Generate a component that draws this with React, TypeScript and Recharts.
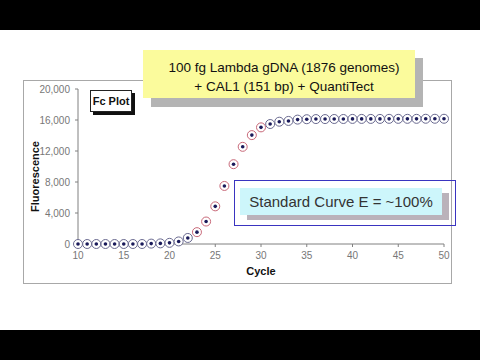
import React from "react";
import { ScatterChart, Scatter, XAxis, YAxis } from "recharts";

const cycles = [10, 11, 12, 13, 14, 15, 16, 17, 18, 19, 20, 21, 22, 23, 24, 25, 26, 27, 28, 29, 30, 31, 32, 33, 34, 35, 36, 37, 38, 39, 40, 41, 42, 43, 44, 45, 46, 47, 48, 49, 50];
const fluorescence = [0, 0, 0, 0, 0, 0, 0, 0, 50, 80, 150, 330, 780, 1530, 2900, 4860, 7490, 10300, 12540, 14050, 15050, 15480, 15780, 15880, 16050, 16100, 16120, 16120, 16130, 16130, 16140, 16140, 16140, 16140, 16150, 16150, 16150, 16150, 16160, 16160, 16160];
const xTicks = [10, 15, 20, 25, 30, 35, 40, 45, 50];
const yTicks = [0, 4000, 8000, 12000, 16000, 20000];
const titleLines = ["100 fg Lambda gDNA (1876 genomes)", "+ CAL1 (151 bp) + QuantiTect"];
const plotLabel = "Fc Plot";
const noteText = "Standard Curve E = ~100%";

const data = cycles.map((c, i) => ({ cycle: c, f: fluorescence[i] }));

const FONT = "'Liberation Sans', Arial, sans-serif";

const Marker = (props: any) => {
  const { cx, cy, payload } = props;
  const rising = payload && payload.f > 1000 && payload.f < 15300;
  return (
    <g>
      <circle cx={cx} cy={cy} r={4.5} fill="#ffffff" stroke={rising ? "#c86878" : "#6a6a90"} strokeWidth={1} />
      <circle cx={cx} cy={cy} r={1.8} fill="#1a1a5a" />
    </g>
  );
};

const YLabel = (props: any) => {
  const vb = props.viewBox || { x: 0, y: 0, width: 0, height: 0 };
  const x = vb.x + 5;
  const y = vb.y + vb.height / 2 + 10;
  return (
    <text x={x} y={y} transform={`rotate(-90 ${x} ${y})`} textAnchor="middle" dominantBaseline="central" fontFamily={FONT} fontSize={11} fontWeight="bold" fill="#111">
      Fluorescence
    </text>
  );
};

export default function App() {
  return (
    <div style={{ position: "absolute", left: 0, top: 0, width: 480, height: 360, background: "#000", overflow: "hidden" }}>
      <div style={{ position: "absolute", left: 0, top: 30, width: 480, height: 300, background: "#fff" }} />
      <div style={{ position: "absolute", left: 23, top: 80, width: 427, height: 202, border: "1px solid #a8a8a8" }} />
      <div style={{ position: "absolute", left: 0, top: 0 }}>
        <ScatterChart width={480} height={360} margin={{ top: 89, right: 36, bottom: 80, left: 30 }}>
          <XAxis
            type="number"
            dataKey="cycle"
            domain={[10, 50]}
            ticks={xTicks}
            height={36}
            tickSize={3}
            tickMargin={5}
            stroke="#808080"
            tick={{ fill: "#777", fontSize: 10, fontFamily: FONT }}
            label={{ value: "Cycle", position: "insideBottom", offset: 5, fontFamily: FONT, fontSize: 11, fontWeight: "bold", fill: "#111" }}
          />
          <YAxis
            type="number"
            dataKey="f"
            domain={[0, 20000]}
            ticks={yTicks}
            width={48}
            tickSize={3}
            tickMargin={5}
            stroke="#808080"
            tick={{ fill: "#777", fontSize: 10, fontFamily: FONT }}
            tickFormatter={(v: number) => v.toLocaleString("en-US")}
            label={<YLabel />}
          />
          <Scatter data={data} shape={<Marker />} isAnimationActive={false} />
        </ScatterChart>
      </div>
      {/* Title box */}
      <div style={{ position: "absolute", left: 151, top: 58, width: 272, height: 49, background: "#b4b4b4" }} />
      <div style={{ position: "absolute", left: 143, top: 50, width: 272, height: 48, background: "#fbfb9c", fontFamily: FONT, fontSize: 13.5, color: "#111", display: "flex", flexDirection: "column", alignItems: "center", justifyContent: "center", lineHeight: "19px", paddingLeft: 10, paddingTop: 6, boxSizing: "border-box" }}>
        <div>{titleLines[0]}</div>
        <div>{titleLines[1]}</div>
      </div>
      {/* Fc Plot box */}
      <div style={{ position: "absolute", left: 93, top: 93, width: 42, height: 22, background: "#111" }} />
      <div style={{ position: "absolute", left: 90, top: 90, width: 42, height: 22, background: "#fff", border: "1px solid #222", boxSizing: "border-box", fontFamily: FONT, fontSize: 11, fontWeight: "bold", color: "#111", display: "flex", alignItems: "center", justifyContent: "center" }}>
        {plotLabel}
      </div>
      {/* Standard curve note */}
      <div style={{ position: "absolute", left: 234, top: 180, width: 222, height: 46, border: "1.5px solid #3a34c0", boxSizing: "border-box" }} />
      <div style={{ position: "absolute", left: 247, top: 193, width: 202, height: 27, background: "#bab2ba" }} />
      <div style={{ position: "absolute", left: 240, top: 188, width: 202, height: 27, background: "#cdf6fb", fontFamily: FONT, fontSize: 15, color: "#333", display: "flex", alignItems: "center", justifyContent: "center" }}>
        {noteText}
      </div>
    </div>
  );
}
